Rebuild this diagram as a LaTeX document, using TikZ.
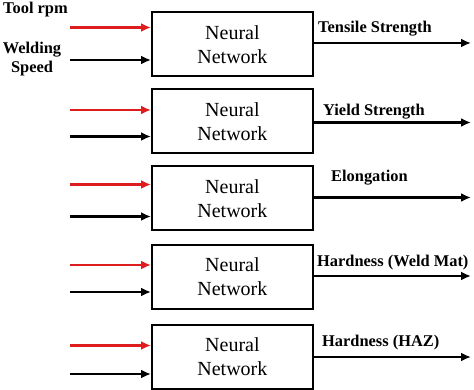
\documentclass[tikz,border=0pt]{standalone}
\usepackage{fontspec}
\newfontfamily\lsf{Liberation Serif}
\usetikzlibrary{arrows.meta}
\definecolor{inred}{RGB}{222,30,30}
\tikzset{
  nnbox/.style={draw=black, line width=1.8pt, minimum width=161pt, minimum height=64pt, inner sep=0pt, anchor=north west, align=center, font=\lsf\fontsize{20}{24}\selectfont},
  flow/.style={line width=2.2pt, -{Latex[length=10pt,width=9pt]}},
  redflow/.style={line width=2.2pt, draw=inred, -{Latex[length=10pt,width=9pt,fill=inred]}},
  lbl/.style={font=\lsf\bfseries\fontsize{16.4}{19}\selectfont, inner sep=0pt, anchor=base west},
}
\begin{document}
\begin{tikzpicture}[x=1pt,y=-1pt]
\useasboundingbox (0,0) rectangle (474,390);
% boxes
\node[nnbox] (b1) at (151,11.5) {Neural\\Network};
\node[nnbox] (b2) at (151,88.5) {Neural\\Network};
\node[nnbox] (b3) at (151,165.5) {Neural\\Network};
\node[nnbox] (b4) at (151,244) {Neural\\Network};
\node[nnbox] (b5) at (151,324) {Neural\\Network};
% input start coordinates
\coordinate (r1) at (70,27.5);  \coordinate (k1) at (70,60);
\coordinate (r2) at (70,110);   \coordinate (k2) at (70,136.5);
\coordinate (r3) at (70,184.5); \coordinate (k3) at (70,216.5);
\coordinate (r4) at (70,265);   \coordinate (k4) at (70,292);
\coordinate (r5) at (70,345.5); \coordinate (k5) at (70,374);
\foreach \i in {1,...,5}{
  \draw[redflow] (r\i) -- (r\i -| b\i.west);
  \draw[flow] (k\i) -- (k\i -| b\i.west);
}
% output end coordinates
\coordinate (o1) at (471,43);
\coordinate (o2) at (471,122.5);
\coordinate (o3) at (471,197.5);
\coordinate (o4) at (471,276);
\coordinate (o5) at (471,357);
\foreach \i in {1,...,5}{
  \draw[flow] (b\i.east |- o\i) -- (o\i);
}
% input labels
\node[lbl] (tool) at (3,14) {Tool rpm};
\node[font=\lsf\bfseries\fontsize{16.4}{18.5}\selectfont, inner sep=0pt, align=center, anchor=north] (speed) at (32,42) {Welding\\Speed};
% output labels
\node[lbl] (l1) at (318,33) {Tensile Strength};
\node[lbl] (l2) at (323,116) {Yield Strength};
\node[lbl] (l3) at (331,182) {Elongation};
\node[lbl] (l4) at (317,266.5) {Hardness (Weld Mat)};
\node[lbl] (l5) at (322,346) {Hardness (HAZ)};
\end{tikzpicture}
\end{document}
